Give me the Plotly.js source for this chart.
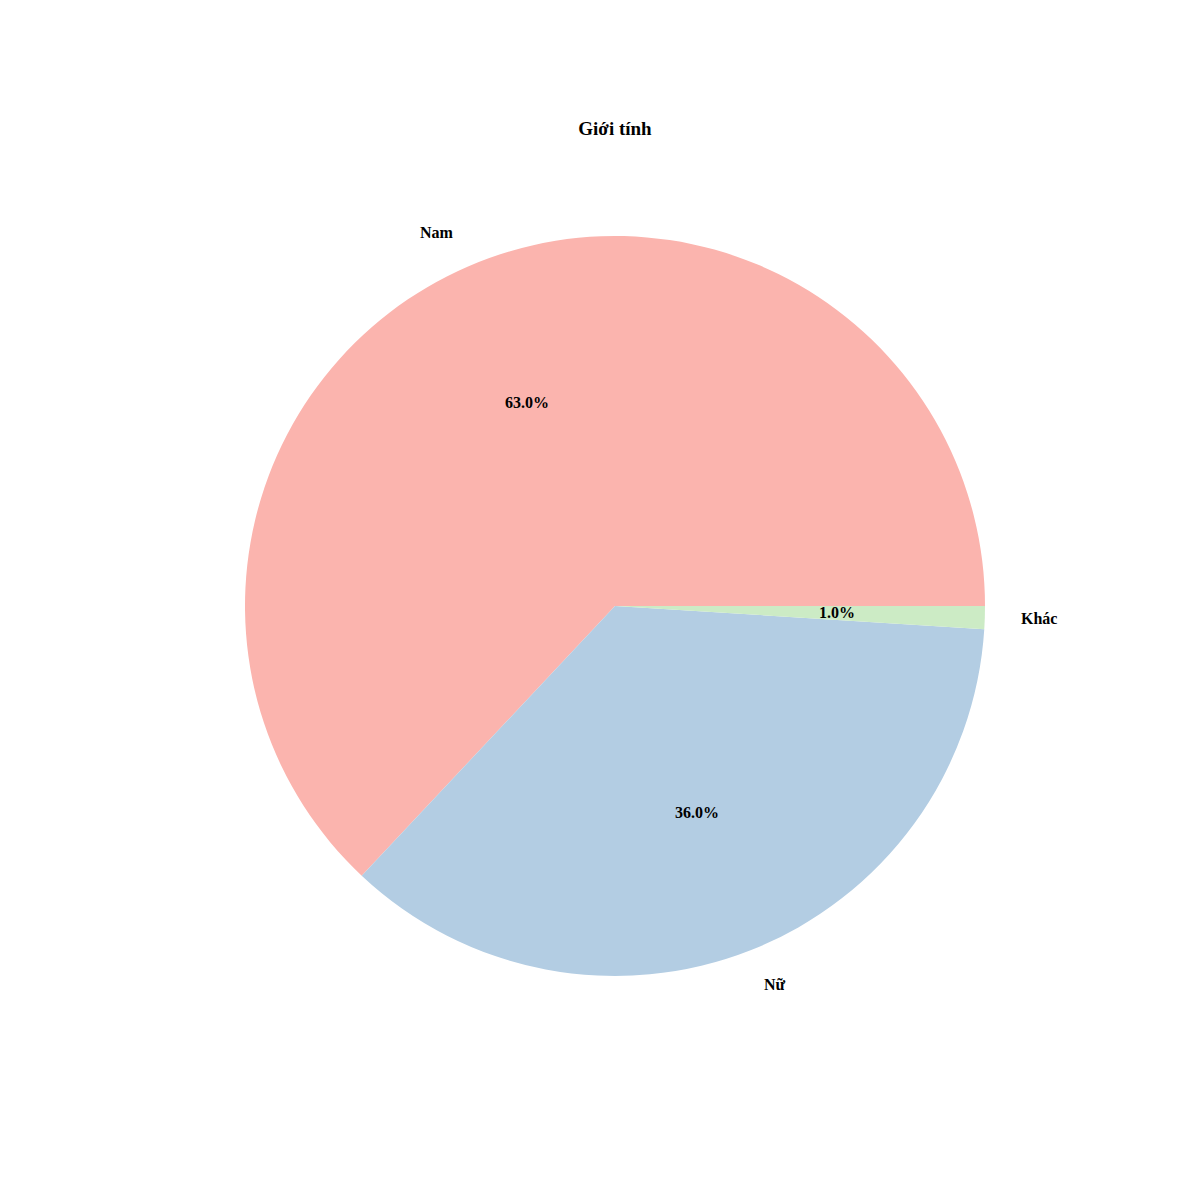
<!DOCTYPE html>
<html>
<head>
<meta charset="utf-8">
<script src="https://cdn.plot.ly/plotly-3.0.1.min.js"></script>
<style>body{margin:0;background:#fff;}</style>
</head>
<body>
<div id="chart" style="width:1200px;height:1200px;"></div>
<script>
// dữ liệu giới tính
let labels = ['Nam', 'Nữ', 'Khác'];
let values = [63, 36, 1];
let colors = ['#fbb4ae', '#b3cde3', '#ccebc5'];

let font = {family: 'Liberation Serif, Times New Roman, serif', size: 16, color: '#000', weight: 'bold'};

let total = values.reduce((a, b) => a + b, 0);

// plotly: với counterclockwise, lát đầu tiên kết thúc tại rotation + v0
// -> muốn lát đầu bắt đầu ở 3 giờ và quay ngược chiều kim đồng hồ như matplotlib
let rotation = 90 - values[0] / total * 360;

// trục ẩn: 1 đơn vị = bán kính; rộng hơn để nhãn ngoài không bị ẩn
let span = 1.3;
let pad = (1 - 1 / span) / 2;

// nhãn ở 1.1r, phần trăm ở 0.6r
let annotations = [];
let cum = 0;
values.forEach((v, i) => {
    let mid = (cum + v / 2) / total * 2 * Math.PI;
    cum += v;
    let c = Math.cos(mid), s = Math.sin(mid);
    annotations.push({
        xref: 'x', yref: 'y',
        x: 1.1 * c, y: 1.1 * s,
        text: labels[i],
        xanchor: c < 0 ? 'right' : 'left',
        xshift: c < 0 ? 3 : -3,   // bù phần đệm của annotation
        yanchor: 'middle',
        showarrow: false,
        font: font
    });
    annotations.push({
        xref: 'x', yref: 'y',
        x: 0.6 * c, y: 0.6 * s,
        text: (v / total * 100).toFixed(1) + '%',
        xanchor: 'center',
        yanchor: 'middle',
        showarrow: false,
        font: font
    });
});

let pie = {
    type: 'pie',
    labels: labels,
    values: values,
    sort: false,
    direction: 'counterclockwise',
    rotation: rotation,
    domain: {x: [pad, 1 - pad], y: [pad, 1 - pad]},
    marker: {colors: colors, line: {width: 0}},
    textinfo: 'none',
    hoverinfo: 'label+percent',
    showlegend: false
};

// trace trống để tạo trục toạ độ cho các nhãn
let anchor = {
    type: 'scatter',
    mode: 'markers',
    x: [],
    y: [],
    hoverinfo: 'skip',
    showlegend: false
};

let hidden = {range: [-span, span], visible: false, showgrid: false, zeroline: false, fixedrange: true};

let layout = {
    width: 1200,
    height: 1200,
    margin: {l: 134, r: 104, t: 125, b: 113},
    paper_bgcolor: '#fff',
    plot_bgcolor: 'rgba(0,0,0,0)',
    title: {
        text: 'Giới tính',
        font: {family: font.family, size: 19, color: '#000', weight: 'bold'},
        x: 0.5, xref: 'paper',
        y: 1 - 128 / 1200, yref: 'container', yanchor: 'middle'
    },
    xaxis: hidden,
    yaxis: Object.assign({}, hidden),
    annotations: annotations,
    showlegend: false
};

Plotly.newPlot('chart', [anchor, pie], layout, {staticPlot: true});
</script>
</body>
</html>
